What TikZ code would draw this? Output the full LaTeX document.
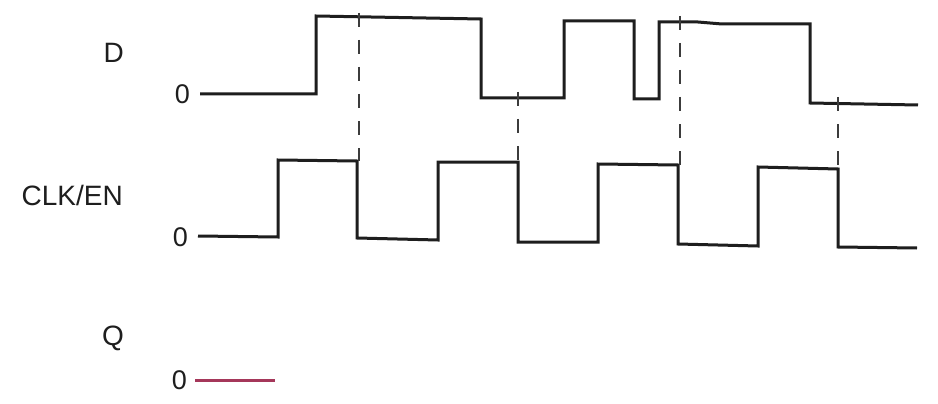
\documentclass[tikz,border=0pt]{standalone}
\usepackage{fontspec}
\setmainfont{Liberation Sans}
\begin{document}
\begin{tikzpicture}[x=1pt,y=-1pt,
  wave/.style={line width=3pt,draw={rgb,255:red,30;green,30;blue,30},line join=miter},
  guide/.style={line width=1.8pt,draw={rgb,255:red,60;green,60;blue,60},dash pattern=on 14pt off 13pt},
  sig/.style={font=\fontsize{28}{32}\selectfont,text={rgb,255:red,30;green,30;blue,30},anchor=east,inner sep=0pt},
  zero/.style={font=\fontsize{27}{30}\selectfont,text={rgb,255:red,30;green,30;blue,30},anchor=east,inner sep=0pt}]
\useasboundingbox (0,0) rectangle (938,404);
\fill[white] (0,0) rectangle (938,404);
% labels
\node[sig] (lD) at (124,53) {D};
\node[sig] (lC) at (123,195) {CLK/EN};
\node[sig] (lQ) at (124,338) {Q};
\node[zero] (zD) at (190,94) {0};
\node[zero] (zC) at (188,237) {0};
\node[zero] (zQ) at (187,380) {0};
% D waveform
\coordinate (d1) at (359,18);
\coordinate (d2) at (518,98);
\coordinate (d3) at (680,23);
\coordinate (d4) at (838,103);
\draw[wave] (200,94) -- (316,94) -- (316,16) -- (481,19) -- (481,98) -- (564,98) -- (564,21) -- (634,21) -- (634,99) -- (659,99) -- (659,22) -- (698,22) -- (722,24) -- (810,24) -- (810,103) -- (918,105);
% CLK waveform
\coordinate (c1) at (357,161);
\coordinate (c2) at (518,162);
\coordinate (c3) at (678,165);
\coordinate (c4) at (838,169);
\draw[wave] (198,236) -- (278,237) -- (278,160) -- (357,161) -- (357,238) -- (438,240) -- (438,162) -- (518,162) -- (518,242) -- (598,242) -- (598,164) -- (678,165) -- (678,244) -- (758,246) -- (758,167) -- (838,169) -- (838,247) -- (917,248);
% dashed guides
\draw[guide] ([yshift=5pt]d1) -- (c1 -| d1);
\draw[guide] ([yshift=6pt]d2) -- (c2);
\draw[guide] ([yshift=7pt]d3) -- (c3 -| d3);
\draw[guide] ([yshift=6pt]d4) -- (c4);
% Q
\coordinate (q0) at (195,380);
\coordinate (q1) at (275,380);
\draw[line width=3pt,draw={rgb,255:red,165;green,55;blue,90}] (q0) -- (q1);
\end{tikzpicture}
\end{document}
